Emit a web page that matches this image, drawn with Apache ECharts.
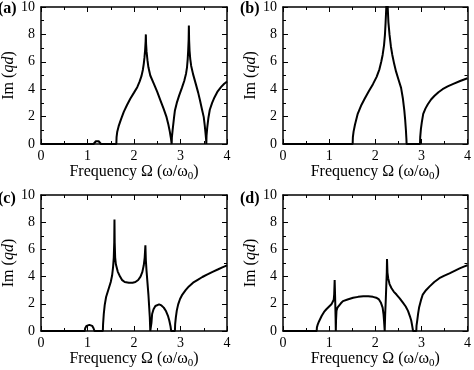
<!DOCTYPE html>
<html>
<head>
<meta charset="utf-8">
<script src="https://cdn.jsdelivr.net/npm/echarts@6/dist/echarts.min.js"></script>
<style>
html,body{margin:0;padding:0;background:#fff;}
#chart{width:474px;height:370px;}
</style>
</head>
<body>
<div id="chart"></div>
<script>
// Tick labels / axis ranges
const xTicks = [0, 1, 2, 3, 4];
const yTicks = [0, 2, 4, 6, 8, 10];
const panelLabels = ['(a)', '(b)', '(c)', '(d)'];

// Im(qd) vs Frequency Omega: [Omega, Im(qd)]
const panelA = [
  [0,0],[1.13,0],[1.15,0.12],[1.18,0.2],[1.21,0.22],[1.24,0.2],[1.27,0.12],[1.29,0],[1.62,0],
  [1.625,0.5],[1.64,0.9],[1.67,1.3],[1.72,1.8],[1.78,2.35],[1.85,2.85],[1.92,3.3],[2.0,3.75],
  [2.07,4.15],[2.12,4.55],[2.16,4.95],[2.19,5.4],[2.21,5.85],[2.225,6.3],[2.24,6.9],[2.25,7.5],
  [2.255,8.0],[2.26,7.3],[2.27,6.76],[2.29,6.1],[2.31,5.6],[2.35,5.0],[2.43,4.37],[2.50,3.8],
  [2.57,3.17],[2.64,2.55],[2.70,1.96],[2.74,1.4],[2.77,0.9],[2.795,0.4],[2.81,0],
  [2.815,0.5],[2.83,1.0],[2.86,1.9],[2.88,2.45],[2.92,3.0],[2.97,3.53],[3.03,4.1],[3.08,4.6],
  [3.12,5.15],[3.14,5.6],[3.155,6.2],[3.165,6.8],[3.175,7.6],[3.18,8.64],[3.185,7.6],
  [3.195,6.8],[3.21,6.2],[3.23,5.7],[3.27,5.1],[3.33,4.37],[3.38,3.75],[3.42,3.17],[3.46,2.55],
  [3.50,1.96],[3.52,1.4],[3.535,0.9],[3.55,0.35],[3.555,0],[3.56,0.6],[3.575,1.2],[3.60,1.9],
  [3.63,2.5],[3.68,3.0],[3.73,3.4],[3.80,3.85],[3.87,4.15],[3.94,4.4],[4.0,4.55]
];
const panelB = [
  [0,0],[1.51,0],[1.515,0.5],[1.53,0.9],[1.56,1.4],[1.62,2.2],[1.70,2.85],[1.77,3.3],
  [1.86,3.85],[1.95,4.37],[2.03,4.9],[2.09,5.45],[2.13,6.0],[2.16,6.5],[2.19,7.2],[2.21,7.96],
  [2.225,8.9],[2.24,10],[2.255,12],[2.27,10],[2.285,8.9],[2.31,7.96],[2.34,7.1],[2.37,6.5],
  [2.41,5.85],[2.45,5.3],[2.50,4.75],[2.56,4.1],[2.60,3.3],[2.63,2.45],[2.65,1.7],[2.665,1.0],
  [2.675,0.4],[2.68,0],[2.97,0],[2.975,0.5],[2.99,1.1],[3.01,1.6],[3.04,2.2],[3.09,2.6],
  [3.14,2.9],[3.21,3.25],[3.28,3.5],[3.37,3.78],[3.46,4.0],[3.57,4.2],[3.68,4.37],[3.84,4.6],
  [4.0,4.8]
];
const panelC = [
  [0,0],[0.94,0],[0.95,0.2],[0.98,0.38],[1.04,0.45],[1.10,0.38],[1.13,0.2],[1.15,0],[1.33,0],
  [1.335,0.5],[1.35,1.25],[1.37,1.9],[1.40,2.5],[1.46,3.16],[1.50,3.6],[1.53,4.1],[1.55,4.7],
  [1.565,5.4],[1.575,6.5],[1.58,8.2],[1.585,6.5],[1.595,5.4],[1.61,4.9],[1.65,4.37],[1.70,4.0],
  [1.74,3.76],[1.80,3.6],[1.89,3.54],[1.97,3.55],[2.03,3.6],[2.09,3.75],[2.14,4.0],[2.18,4.35],
  [2.21,4.83],[2.23,5.4],[2.245,6.3],[2.255,5.2],[2.27,4.4],[2.31,2.68],[2.34,1.0],[2.35,0],
  [2.37,0],[2.375,0.6],[2.39,1.25],[2.42,1.6],[2.46,1.84],[2.50,1.95],[2.54,1.96],[2.59,1.88],
  [2.64,1.72],[2.69,1.45],[2.73,1.12],[2.76,0.75],[2.785,0.35],[2.80,0],[2.88,0],[2.885,0.5],
  [2.90,1.0],[2.92,1.5],[2.95,1.96],[2.99,2.35],[3.04,2.68],[3.11,3.0],[3.18,3.28],[3.27,3.55],
  [3.37,3.76],[3.47,3.97],[3.58,4.16],[3.69,4.35],[3.80,4.52],[3.90,4.68],[4.0,4.83]
];
const panelD = [
  [0,0],[0.73,0],[0.735,0.25],[0.75,0.45],[0.78,0.7],[0.84,1.12],[0.89,1.4],[0.94,1.6],
  [1.00,1.8],[1.05,1.96],[1.08,2.1],[1.10,2.3],[1.11,2.7],[1.12,3.75],[1.13,2.5],[1.14,1.0],
  [1.145,0],[1.15,0.8],[1.16,1.5],[1.18,1.72],[1.20,1.84],[1.25,2.02],[1.30,2.2],[1.40,2.32],
  [1.52,2.44],[1.63,2.51],[1.74,2.56],[1.85,2.56],[1.95,2.51],[2.02,2.45],[2.08,2.32],
  [2.12,2.1],[2.16,1.72],[2.18,1.2],[2.19,0.77],[2.205,0],[2.215,1.2],[2.23,2.44],[2.24,3.4],
  [2.25,4.3],[2.255,5.3],[2.265,4.3],[2.28,3.88],[2.31,3.45],[2.35,3.16],[2.40,2.9],
  [2.46,2.68],[2.53,2.4],[2.60,2.08],[2.66,1.8],[2.71,1.48],[2.75,1.1],[2.78,0.77],[2.80,0.4],
  [2.82,0],[2.89,0],[2.895,0.4],[2.91,0.77],[2.93,1.3],[2.95,1.72],[2.99,2.25],[3.03,2.68],
  [3.10,3.0],[3.18,3.28],[3.28,3.6],[3.39,3.88],[3.50,4.07],[3.61,4.24],[3.72,4.42],
  [3.83,4.6],[3.92,4.73],[4.0,4.83]
];
const panels = [panelA, panelB, panelC, panelD];

const FONT = '"Liberation Serif","Times New Roman",serif';
const grids = [
  {left: 41, top: 5, width: 186, height: 139},
  {left: 283, top: 5, width: 185, height: 139},
  {left: 41, top: 195, width: 186, height: 139},
  {left: 283, top: 195, width: 185, height: 139}
];
const labelPos = [[-2, 1], [240, 1], [-2, 191], [240, 191]];

const lineStyle = {color: '#000', width: 1.5};
const xAxes = [], yAxes = [], series = [], graphics = [];
grids.forEach((g, i) => {
  const common = {
    gridIndex: i, type: 'value', min: xTicks[0], max: xTicks[xTicks.length - 1], interval: 1,
    axisLine: {show: true, onZero: false, lineStyle},
    axisTick: {show: true, inside: true, length: 5, lineStyle: {color: '#000', width: 1}},
    minorTick: {show: true, splitNumber: 2, length: 3, lineStyle: {color: '#000', width: 1}},
    splitLine: {show: false}
  };
  xAxes.push(Object.assign({}, common, {
    position: 'bottom',
    axisLabel: {color: '#000', fontFamily: FONT, fontSize: 14, margin: 5},
    name: '{n|Frequency Ω (ω/ω}{s|0}{n|)}',
    nameLocation: 'middle', nameGap: 18,
    nameTextStyle: {
      color: '#000',
      rich: {
        n: {fontFamily: FONT, fontSize: 16, color: '#000', lineHeight: 20},
        s: {fontFamily: FONT, fontSize: 11, color: '#000', verticalAlign: 'bottom'}
      }
    }
  }));
  xAxes.push(Object.assign({}, common, {position: 'top', axisLabel: {show: false}}));
  const ycommon = {
    gridIndex: i, type: 'value', min: yTicks[0], max: yTicks[yTicks.length - 1], interval: 2,
    axisLine: {show: true, onZero: false, lineStyle},
    axisTick: {show: true, inside: true, length: 5, lineStyle: {color: '#000', width: 1}},
    minorTick: {show: true, splitNumber: 2, length: 3, lineStyle: {color: '#000', width: 1}},
    splitLine: {show: false}
  };
  yAxes.push(Object.assign({}, ycommon, {
    position: 'left',
    axisLabel: {color: '#000', fontFamily: FONT, fontSize: 14, margin: 6},
    name: '{n|Im (}{i|qd}{n|)}',
    nameLocation: 'middle', nameGap: 22, nameRotate: 90,
    nameTextStyle: {
      color: '#000',
      rich: {
        n: {fontFamily: FONT, fontSize: 16, color: '#000'},
        i: {fontFamily: FONT, fontSize: 16, fontStyle: 'italic', color: '#000'}
      }
    }
  }));
  yAxes.push(Object.assign({}, ycommon, {position: 'right', axisLabel: {show: false}}));
  series.push({
    type: 'line', xAxisIndex: 2 * i, yAxisIndex: 2 * i,
    data: panels[i], showSymbol: false, symbol: 'none', clip: true,
    lineStyle: {color: '#000', width: 2}, silent: true, animation: false
  });
  graphics.push({
    type: 'text', left: labelPos[i][0], top: labelPos[i][1],
    style: {text: panelLabels[i], font: 'bold 16px ' + FONT, fill: '#000'}
  });
});

const chart = echarts.init(document.getElementById('chart'), null, {renderer: 'canvas'});
chart.setOption({
  animation: false,
  backgroundColor: '#fff',
  grid: grids,
  xAxis: xAxes,
  yAxis: yAxes,
  series: series,
  graphic: graphics
});
</script>
</body>
</html>
